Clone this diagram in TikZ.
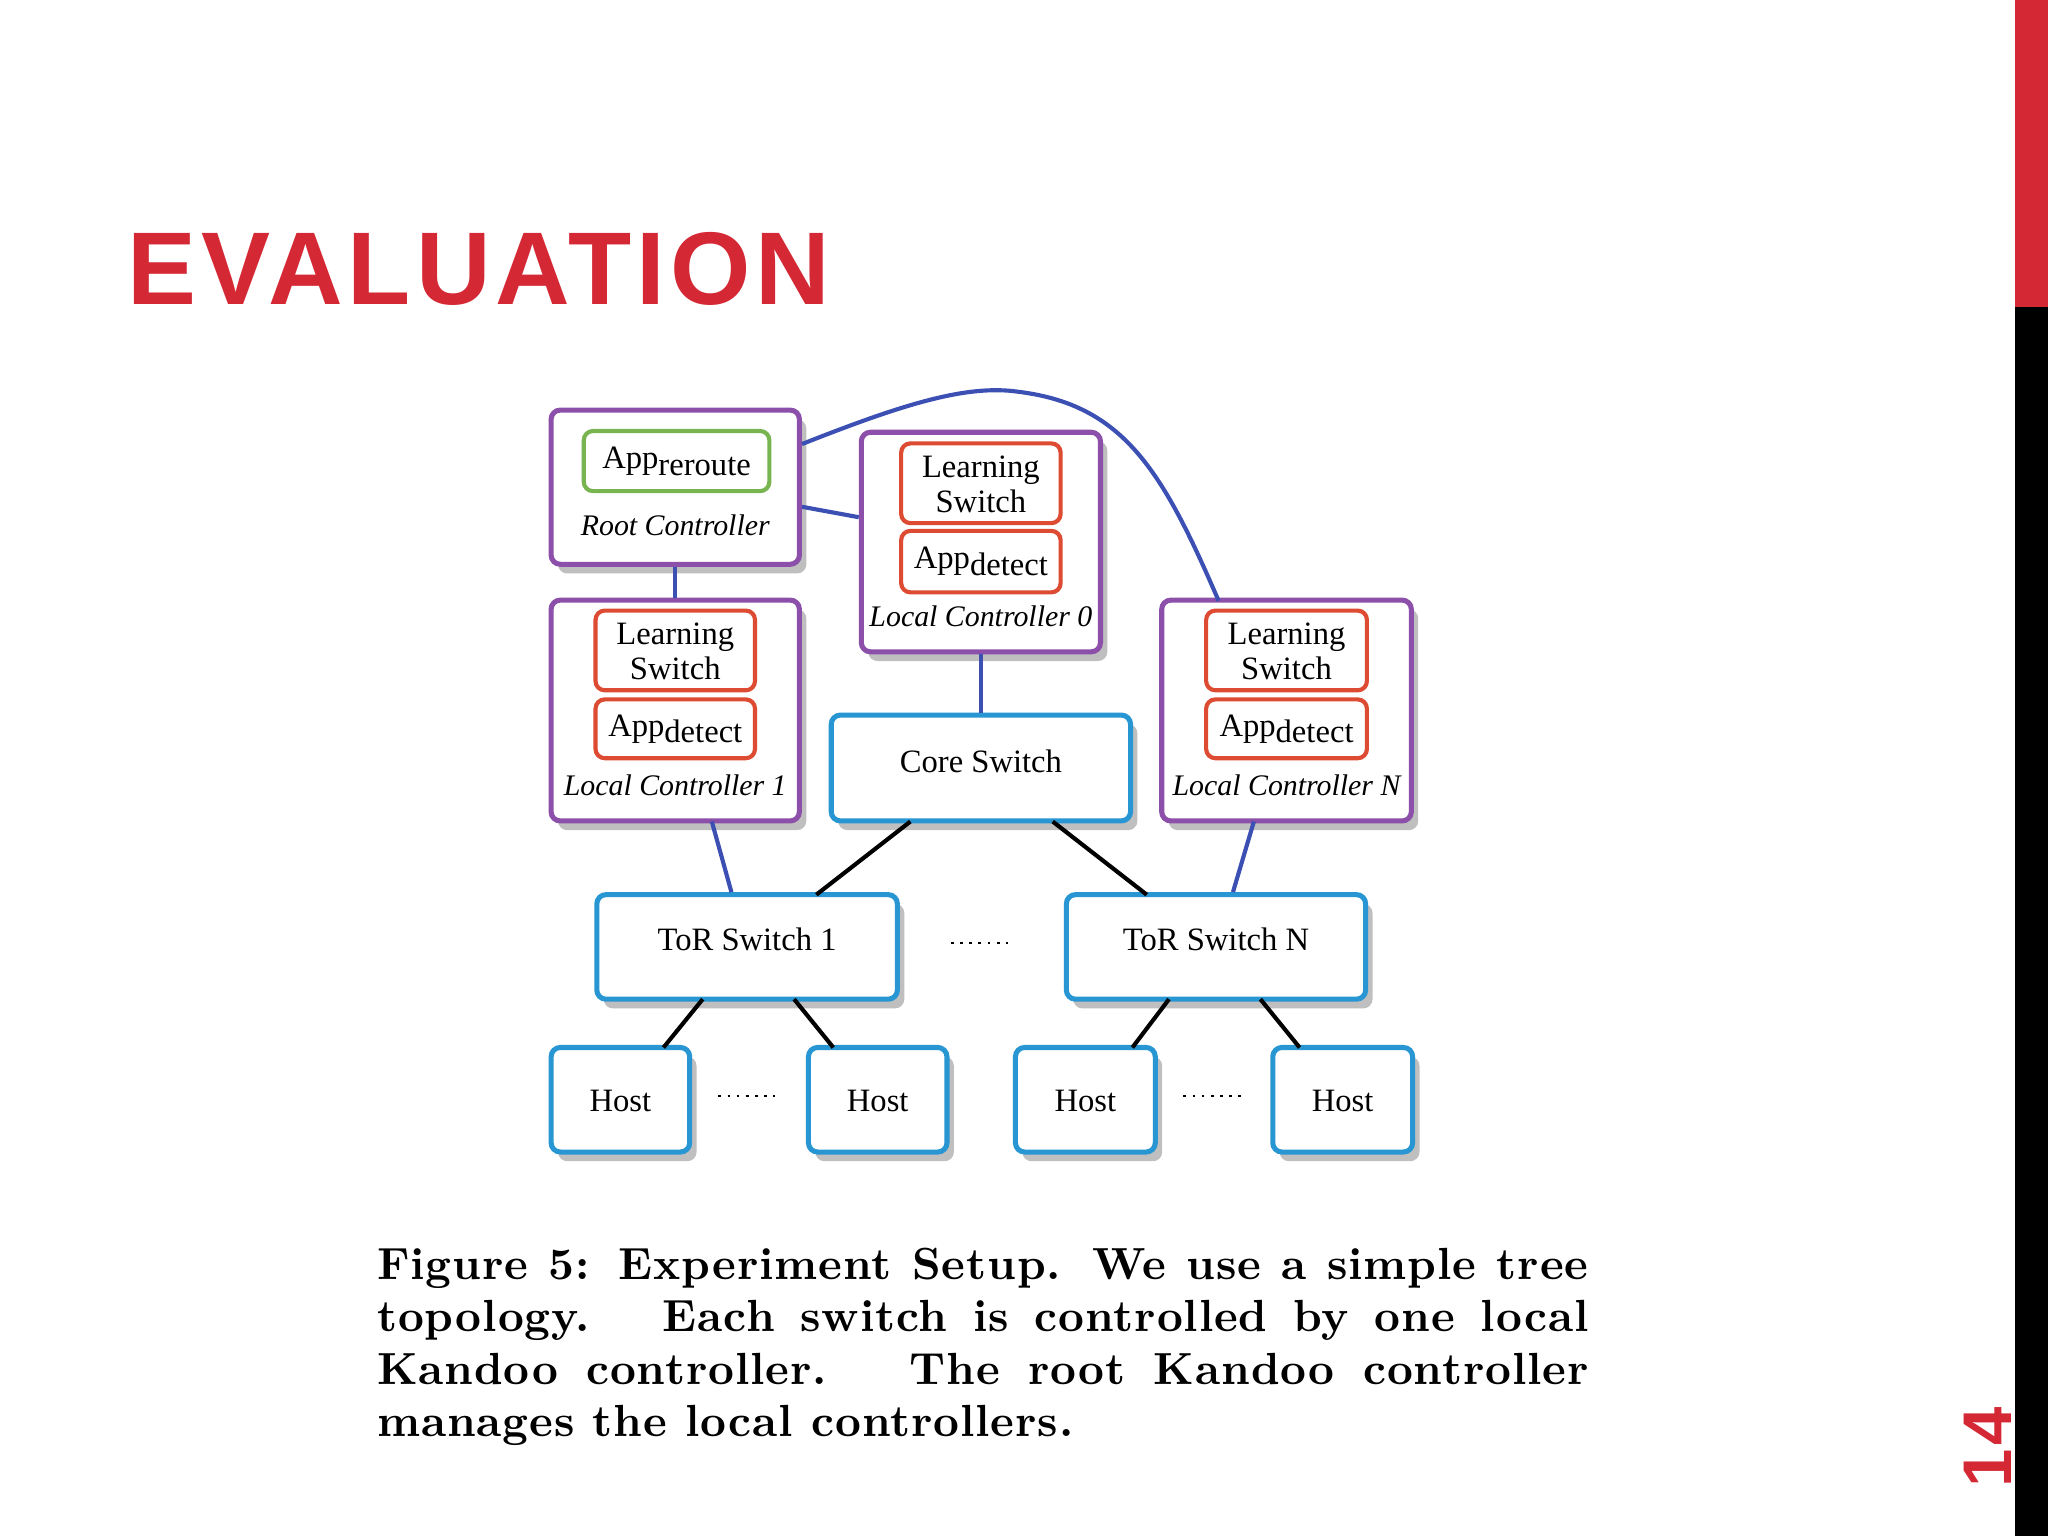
\documentclass[tikz,border=0pt]{standalone}
\usepackage{fontspec}
\setmainfont{Latin Modern Roman}
\newfontfamily\diagfont{Liberation Serif}
\newfontfamily\titlefont[LetterSpace=5]{Liberation Sans}
\newfontfamily\capfont[LetterSpace=2]{Latin Modern Roman}
\usetikzlibrary{shadows}
\definecolor{slred}{RGB}{212,40,52}
\definecolor{ctrlpurple}{RGB}{140,80,170}
\definecolor{apred}{RGB}{220,75,50}
\definecolor{apgreen}{RGB}{120,180,80}
\definecolor{swblue}{RGB}{40,150,210}
\definecolor{lnblue}{RGB}{60,80,180}
\newcommand{\capline}[1]{\makebox[9.27cm][s]{#1}}
\begin{document}
\begin{tikzpicture}[x=0.01cm,y=-0.01cm,
  ctrl/.style={draw=ctrlpurple,line width=1.1pt,rounded corners=2pt,fill=white,drop shadow={shadow xshift=1.5pt,shadow yshift=-2pt,fill=black!50}},
  sw/.style={draw=swblue,line width=1.1pt,rounded corners=2pt,fill=white,drop shadow={shadow xshift=1.5pt,shadow yshift=-2pt,fill=black!50}},
  app/.style={draw=apred,line width=0.9pt,rounded corners=2pt,fill=white},
  gapp/.style={draw=apgreen,line width=0.9pt,rounded corners=2pt,fill=white},
  txt/.style={font=\diagfont\fontsize{7.1}{7.6}\selectfont,align=center,inner sep=0pt},
  itxt/.style={font=\diagfont\itshape\fontsize{6.5}{7.4}\selectfont,inner sep=0pt},
  bl/.style={draw=lnblue,line width=0.9pt},
  bk/.style={draw=black,line width=0.9pt},
  dts/.style={draw=black,line width=0.5pt,dash pattern=on 0.6pt off 1.4pt}]
\useasboundingbox (0,0) rectangle (1568,1176);
\fill[white] (0,0) rectangle (1568,1176);
% right bar
\fill[slred] (1543,0) rectangle (1568,235);
\fill[black] (1543,235) rectangle (1568,1176);
\node[rotate=90,text=slred,font=\titlefont\bfseries\fontsize{15}{15}\selectfont,inner sep=0pt] (pg) at (1522,1108) {14};
% title
\node[anchor=base west,text=slred,font=\titlefont\bfseries\fontsize{22.5}{24}\selectfont,inner sep=0pt] (title) at (97,233) {EVALUATION};
% controllers
\node[ctrl,minimum width=1.90cm,minimum height=1.18cm] (root) at (517,373) {};
\node[gapp,minimum width=1.42cm,minimum height=0.46cm] (rr) at (518,353) {};
\node[txt] at (518,353) {App\raisebox{-0.45ex}{reroute}};
\node[itxt] at (517,402) {Root Controller};

\node[ctrl,minimum width=1.83cm,minimum height=1.68cm] (lc0) at (751,415) {};
\node[app,minimum width=1.22cm,minimum height=0.61cm] (ls0) at (751,370) {};
\node[txt] at (751,371) {Learning\\Switch};
\node[app,minimum width=1.22cm,minimum height=0.47cm] (ad0) at (751,430) {};
\node[txt] at (751,430) {App\raisebox{-0.45ex}{detect}};
\node[itxt] at (751,472) {Local Controller 0};

\node[ctrl,minimum width=1.90cm,minimum height=1.69cm] (lc1) at (517,544) {};
\node[app,minimum width=1.22cm,minimum height=0.61cm] (ls1) at (517,498) {};
\node[txt] at (517,499) {Learning\\Switch};
\node[app,minimum width=1.22cm,minimum height=0.45cm] (ad1) at (517,558) {};
\node[txt] at (517,558) {App\raisebox{-0.45ex}{detect}};
\node[itxt] at (517,601) {Local Controller 1};

\node[ctrl,minimum width=1.91cm,minimum height=1.69cm] (lcn) at (985,544) {};
\node[app,minimum width=1.23cm,minimum height=0.61cm] (lsn) at (985,498) {};
\node[txt] at (985,499) {Learning\\Switch};
\node[app,minimum width=1.23cm,minimum height=0.45cm] (adn) at (985,558) {};
\node[txt] at (985,558) {App\raisebox{-0.45ex}{detect}};
\node[itxt] at (985,601) {Local Controller N};
% switches
\node[sw,minimum width=2.29cm,minimum height=0.81cm] (core) at (751,588) {};
\node[txt] at (751,583) {Core Switch};
\node[sw,minimum width=2.30cm,minimum height=0.80cm] (tor1) at (572,725) {};
\node[txt] at (572,719) {ToR Switch 1};
\node[sw,minimum width=2.29cm,minimum height=0.80cm] (torn) at (931,725) {};
\node[txt] at (931,719) {ToR Switch N};
\node[sw,minimum width=1.06cm,minimum height=0.80cm] (h1) at (475,842) {};
\node[txt] at (475,843) {Host};
\node[sw,minimum width=1.06cm,minimum height=0.80cm] (h2) at (672,842) {};
\node[txt] at (672,843) {Host};
\node[sw,minimum width=1.07cm,minimum height=0.80cm] (h3) at (831,842) {};
\node[txt] at (831,843) {Host};
\node[sw,minimum width=1.07cm,minimum height=0.80cm] (h4) at (1028,842) {};
\node[txt] at (1028,843) {Host};
% dots
\coordinate (d1a) at (728,722); \coordinate (d1b) at (772,722);
\coordinate (d2a) at (550,839); \coordinate (d2b) at (593,839);
\coordinate (d3a) at (906,839); \coordinate (d3b) at (950,839);
\draw[dts] (d1a) -- (d1b); \draw[dts] (d2a) -- (d2b); \draw[dts] (d3a) -- (d3b);
% blue links
\draw[bl] (root.south) -- (lc1.north);
\draw[bl] (root.east |- 0,388) -- (lc0.west |- 0,396);
\draw[bl] (root.east |- 0,340) .. controls (690,310) and (740,294) .. (780,300) .. controls (860,310) and (890,360) .. (933,460);
\draw[bl] (lc0.south) -- (core.north);
\draw[bl] (545,629) -- (tor1.north -| 560,0);
\draw[bl] (960,629) -- (torn.north -| 944,0);
% black links
\draw[bk] (697,629) -- (625,685);
\draw[bk] (806,629) -- (878,685);
\draw[bk] (538,765) -- (508,802);
\draw[bk] (608,765) -- (638,802);
\draw[bk] (895,765) -- (867,802);
\draw[bk] (965,765) -- (995,802);
% caption
\node[anchor=north west,inner sep=0pt,align=left,font=\capfont\bfseries\fontsize{9.8}{11.4}\selectfont] (cap) at (288,955)
{\capline{Figure 5: Experiment Setup. We use a simple tree}\\
\capline{topology. \ Each switch is controlled by one local}\\
\capline{Kandoo controller. \ The root Kandoo controller}\\
manages the local controllers.};
\end{tikzpicture}
\end{document}
